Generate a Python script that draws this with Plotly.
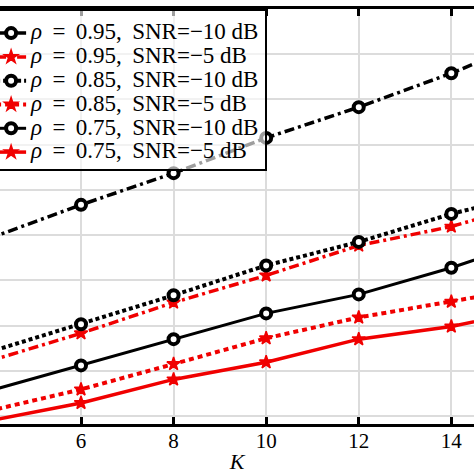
import plotly.graph_objects as go

K = [4, 6, 8, 10, 12, 14, 16]
s_095_m10 = [4.92, 5.67, 6.37, 7.15, 7.83, 8.58, 9.42]
s_095_m5 = [2.21, 2.83, 3.51, 4.11, 4.77, 5.19, 5.78]
s_085_m10 = [2.41, 3.03, 3.67, 4.33, 4.85, 5.47, 5.98]
s_085_m5 = [1.11, 1.59, 2.15, 2.72, 3.18, 3.53, 3.89]
s_075_m10 = [1.55, 2.12, 2.70, 3.27, 3.69, 4.28, 4.97]
s_075_m5 = [0.89, 1.29, 1.81, 2.19, 2.70, 2.98, 3.40]

SP = " \u2009"
labels = [
    "<i>ρ</i>" + SP + "=" + SP + "0.95," + SP + "SNR=−10 dB",
    "<i>ρ</i>" + SP + "=" + SP + "0.95," + SP + "SNR=−5 dB",
    "<i>ρ</i>" + SP + "=" + SP + "0.85," + SP + "SNR=−10 dB",
    "<i>ρ</i>" + SP + "=" + SP + "0.85," + SP + "SNR=−5 dB",
    "<i>ρ</i>" + SP + "=" + SP + "0.75," + SP + "SNR=−10 dB",
    "<i>ρ</i>" + SP + "=" + SP + "0.75," + SP + "SNR=−5 dB",
]
series = [s_095_m10, s_095_m5, s_085_m10, s_085_m5, s_075_m10, s_075_m5]

BLACK = "#000000"
RED = "#f00000"
DASHDOT = "10px,4px,3px,4px"
DOT = "4px,3px"
RDOT = "5px,4px"

styles = [
    dict(color=BLACK, dash=DASHDOT, width=3.5, kind="circle"),
    dict(color=RED, dash=DASHDOT, width=3.5, kind="star"),
    dict(color=BLACK, dash=DOT, width=4, kind="circle"),
    dict(color=RED, dash=RDOT, width=4, kind="star"),
    dict(color=BLACK, dash="solid", width=3, kind="circle"),
    dict(color=RED, dash="solid", width=3.5, kind="star"),
]

fig = go.Figure()
for lab, ys, st in zip(labels, series, styles):
    if st["kind"] == "circle":
        marker = dict(symbol="circle", size=10, color="white",
                      line=dict(color=BLACK, width=4))
    else:
        marker = dict(symbol="star", size=10, color=RED,
                      line=dict(color=RED, width=1.5))
    fig.add_trace(go.Scatter(
        x=K, y=ys, mode="lines+markers",
        name='<span style="font-size:23px">' + lab + "</span>",
        line=dict(color=st["color"], dash=st["dash"], width=st["width"]),
        marker=marker,
    ))

fig.update_layout(
    width=474, height=474,
    margin=dict(l=0, r=0, t=9, b=50, autoexpand=False),
    paper_bgcolor="white", plot_bgcolor="white",
    font=dict(family="Liberation Serif", size=21, color="black"),
    showlegend=True,
    legend=dict(
        x=-0.023, xanchor="left", y=1.0, yanchor="top",
        bgcolor="rgba(255,255,255,0.62)",
        bordercolor="black", borderwidth=2,
        font=dict(family="Liberation Serif", size=16, color="black"),
        title=dict(text="\u00a0", font=dict(family="Liberation Serif", size=4)),
        tracegroupgap=0, itemwidth=30,
    ),
    xaxis=dict(
        range=[4.25, 14.49],
        tickmode="linear", tick0=0, dtick=2,
        showgrid=True, gridcolor="#dcdcdc", gridwidth=2,
        showline=True, linecolor="#000000", linewidth=3, mirror="ticks",
        ticks="inside", ticklen=7, tickwidth=2.5, tickcolor="#000000",
        ticklabelstandoff=-4,
        zeroline=False,
        tickfont=dict(family="Liberation Serif", size=21),
        title=dict(text="<i>K</i>", font=dict(family="Liberation Serif", size=22), standoff=14),
    ),
    yaxis=dict(
        range=[0.824, 10.0],
        tickmode="linear", tick0=0, dtick=1,
        showgrid=True, gridcolor="#dcdcdc", gridwidth=2,
        showline=False, showticklabels=False, ticks="",
        zeroline=False,
    ),
)

fig.write_html("out.html")
